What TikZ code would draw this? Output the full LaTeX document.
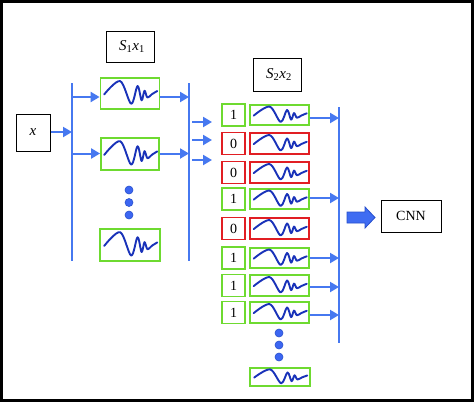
\documentclass[tikz,border=0pt]{standalone}
\usepackage{fontspec}
\setmainfont{Liberation Serif}
\usetikzlibrary{arrows.meta}
\definecolor{gbox}{RGB}{110,218,48}
\definecolor{rbox}{RGB}{225,30,35}
\definecolor{lblue}{RGB}{70,120,240}
\definecolor{wblue}{RGB}{25,50,185}
\definecolor{dblue}{RGB}{40,80,205}
\newcommand{\lbl}[2]{{\itshape #1}\textsubscript{#2}}
\tikzset{
  blackbox/.style={draw=black,line width=1pt,fill=white,inner sep=0pt,font=\fontsize{13}{15}\selectfont},
  gsig/.style={draw=gbox,line width=1.8pt,inner sep=0pt},
  numbox/.style={inner sep=0pt,minimum width=23pt,minimum height=22pt,font=\fontsize{14}{16}\selectfont},
  vline/.style={draw=lblue,line width=2pt},
  arr/.style={draw=lblue,line width=2pt,-{Triangle[length=9pt,width=10pt]}},
  wavestyle/.style={draw=wblue,line width=1.9pt,line cap=round,line join=round},
  dot/.style={circle,fill=lblue!85!blue,draw=dblue,line width=0.6pt,minimum size=8pt,inner sep=0pt},
  wave/.pic={\draw[wavestyle] plot[smooth,tension=0.55] coordinates {(-0.445,0.03) (-0.17,-0.40) (0.02,0.33) (0.13,-0.24) (0.20,0.22) (0.25,-0.09) (0.30,0.13) (0.38,0.02) (0.47,-0.08)};}
}
\begin{document}
\begin{tikzpicture}[x=1pt,y=-1pt]
\useasboundingbox (0,0) rectangle (474,402);
\fill[white] (0,0) rectangle (474,402);
\draw[line width=2.6pt] (1.5,1.3) rectangle (472.7,400.7);

% left stage
\node[blackbox,minimum width=34pt,minimum height=37pt,font=\fontsize{15}{17}\selectfont\itshape] (xin) at (33,132.5) {x};
\node[blackbox,minimum width=48pt,minimum height=31pt,font=\fontsize{15}{17}\selectfont] (s1) at (130,46.5) {\hspace{4pt}\lbl{S}{1}\lbl{x}{1}};
\node[gsig,minimum width=59pt,minimum height=31pt] (b1) at (130,93.5) {};
\node[gsig,minimum width=58pt,minimum height=32pt] (b2) at (130,154) {};
\node[gsig,minimum width=60pt,minimum height=32pt] (b3) at (130,245) {};
\foreach \b/\h in {b1/31,b2/32,b3/32} \pic[xscale=58,yscale=\h] at (\b) {wave};
\node[dot] (d1) at (129,190) {};
\node[dot] (d2) at (129,202.5) {};
\node[dot] (d3) at (129,215) {};

\coordinate (L1t) at (72,83); \coordinate (L1b) at (72,261);
\coordinate (L2t) at (189,83); \coordinate (L2b) at (189,261);
\draw[vline] (L1t) -- (L1b);
\draw[vline] (L2t) -- (L2b);

\draw[arr] (xin.east |- 0,132) -- (72,132);
\coordinate (a1) at (72,97);
\coordinate (a2) at (72,153.5);
\draw[arr] (a1) -- (a1 -| b1.west);
\draw[arr] (a2) -- (a2 -| b2.west);
\draw[arr] (b1.east |- a1) -- (a1 -| L2t);
\draw[arr] (b2.east |- a2) -- (a2 -| L2t);
\foreach \y [count=\i] in {122,140,160}{
  \coordinate (f\i) at (192,\y);
  \coordinate (g\i) at (212,\y);
  \draw[arr] (f\i) -- (g\i);
}

% middle stage
\node[blackbox,minimum width=48pt,minimum height=33pt,font=\fontsize{15}{17}\selectfont] (s2) at (277,74.5) {\hspace{4pt}\lbl{S}{2}\lbl{x}{2}};
\foreach \y/\c/\v [count=\i] in {115/gbox/1,143.5/rbox/0,172.5/rbox/0,199/gbox/1,228.5/rbox/0,258/gbox/1,285.5/gbox/1,312.5/gbox/1}{
  \node[numbox,draw=\c,line width=1.8pt] (n\i) at (233.5,\y) {\v};
  \node[draw=\c,line width=1.8pt,inner sep=0pt,minimum width=59pt,minimum height=20.5pt] (w\i) at (279.5,\y) {};
  \pic[xscale=58,yscale=21] at (w\i) {wave};
}
\node[gsig,minimum width=60pt,minimum height=18pt] (w9) at (280,377) {};
\pic[xscale=58,yscale=19] at (w9) {wave};
\node[dot] (e1) at (279,333) {};
\node[dot] (e2) at (279,345) {};
\node[dot] (e3) at (279,357) {};

\coordinate (R1t) at (339,107); \coordinate (R1b) at (339,343);
\draw[vline] (R1t) -- (R1b);
\foreach \i/\y in {1/118,4/198,6/258,7/287,8/315}{
  \coordinate (r\i) at (339,\y);
  \draw[arr] (w\i.east |- r\i) -- (r\i);
}

% output
\node[blackbox,minimum width=60pt,minimum height=32pt,font=\fontsize{14}{16}\selectfont] (cnn) at (411,216) {CNN};
\draw[fill=lblue!90!blue,draw=dblue,line width=0.8pt,line join=miter]
  (347,212) -- (365,212) -- (365,207) -- (375,217.5) -- (365,228) -- (365,223) -- (347,223) -- cycle;
\end{tikzpicture}
\end{document}
